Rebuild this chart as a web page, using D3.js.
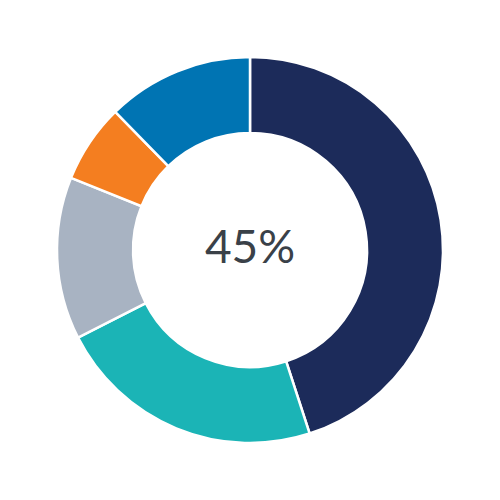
<!DOCTYPE html>
<html>
<head>
<meta charset="utf-8">
<script src="https://cdn.jsdelivr.net/npm/d3@7"></script>
<style>
  body { margin: 0; background: #fff; }
</style>
</head>
<body>
<div id="chart"></div>
<script>
var categories = ["A", "B", "C", "D", "E"];
var values = [45, 22.5, 13.6, 6.6, 12.3];
var colors = ["#1c2b5a", "#1bb4b6", "#a8b3c2", "#f47e20", "#0074b3"];
var centerLabel = "45%";

var width = 500, height = 500,
    outer = 193, inner = 117;

var svg = d3.select("#chart").append("svg")
    .attr("width", width)
    .attr("height", height)
  .append("g")
    .attr("transform", "translate(" + width / 2 + "," + height / 2 + ")");

var color = d3.scaleOrdinal().domain(categories).range(colors);

var pie = d3.pie().sort(null).value(function(d, i) { return values[i]; });
var arc = d3.arc().innerRadius(inner).outerRadius(outer);

svg.selectAll(".slice")
    .data(pie(categories))
  .enter().append("path")
    .attr("class", "slice")
    .attr("d", arc)
    .attr("fill", function(d) { return color(d.data); })
    .attr("stroke", "#fff")
    .attr("stroke-width", 2.5);

svg.append("text")
    .attr("text-anchor", "middle")
    .attr("y", 13)
    .style("font-family", "Lato, sans-serif")
    .style("font-size", "46px")
    .style("font-weight", 400)
    .style("fill", "#3a4148")
    .text(centerLabel);
</script>
</body>
</html>
